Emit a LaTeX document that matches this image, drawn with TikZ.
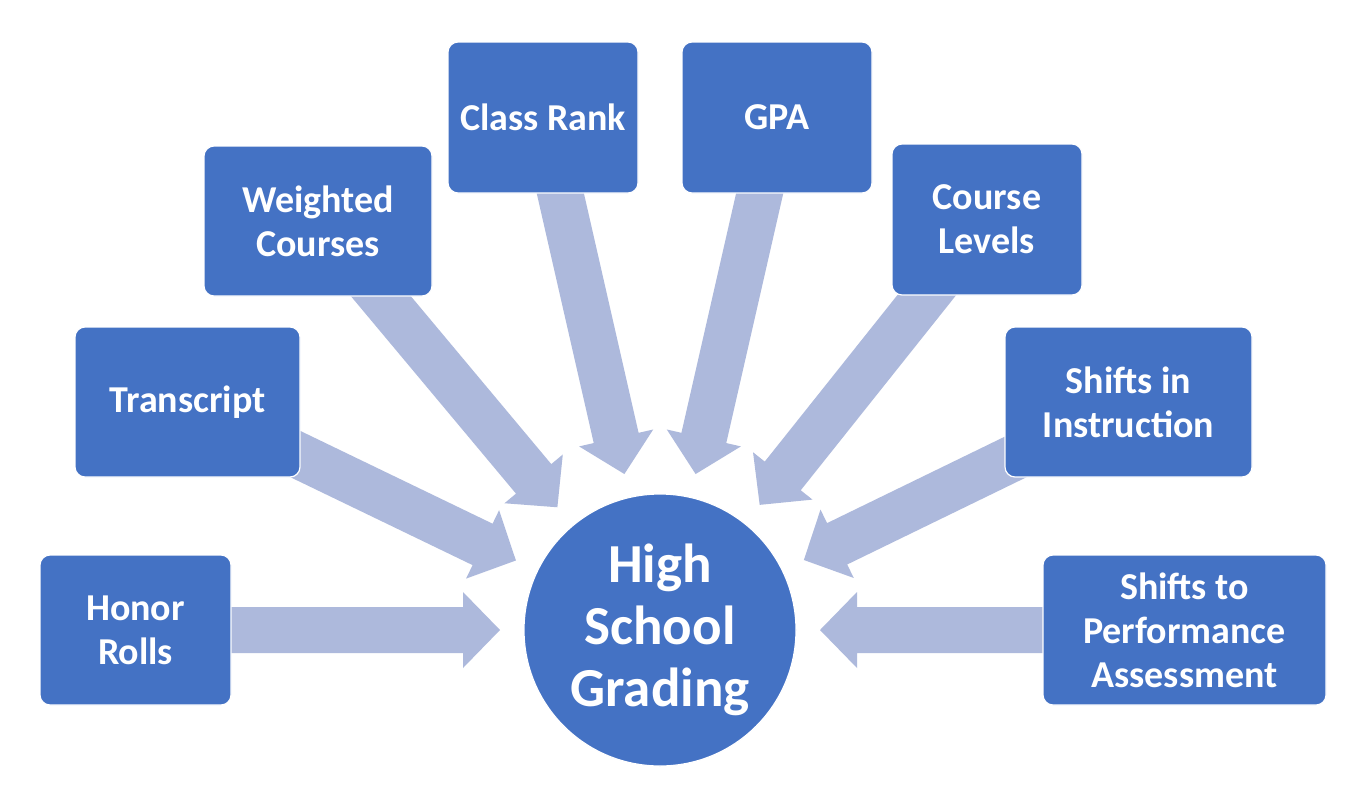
\documentclass[tikz,border=0pt]{standalone}
\usepackage{fontspec}
\setmainfont{Carlito}
\usetikzlibrary{calc}
\definecolor{boxblue}{HTML}{4472C4}
\definecolor{arrowblue}{RGB}{173,185,220}
\pgfdeclarelayer{back}
\pgfdeclarelayer{arrowlayer}
\pgfsetlayers{back,arrowlayer,main}
\newcommand\blockarrowto[1]{%
  \path ($(hsg.center)!160pt!(#1.center)$) coordinate (T)
        ($(hsg.center)!197pt!(#1.center)$) coordinate (H);
  \fill[arrowblue] ($(H)!23pt!90:(#1.center)$) -- ($(#1.center)!23pt!-90:(H)$)
     -- ($(#1.center)!23pt!90:(H)$) -- ($(H)!23pt!-90:(#1.center)$)
     -- ($(H)!38pt!-90:(#1.center)$) -- (T) -- ($(H)!38pt!90:(#1.center)$) -- cycle;}
\tikzset{
  topic/.style={draw=white, line width=1.2pt, fill=boxblue, rounded corners=10pt,
    text=white, font=\bfseries\fontsize{38}{44}\selectfont, align=center, inner sep=0pt},
  hub/.style={circle, draw=white, line width=1.2pt, fill=boxblue, text=white,
    font=\bfseries\fontsize{55}{62}\selectfont, align=center, minimum size=272pt, inner sep=0pt}
}
\begin{document}
\begin{tikzpicture}[x=1pt,y=-1pt]
\begin{pgfonlayer}{back}
\fill[white] (0,0) rectangle (1370,798);
\end{pgfonlayer}
\useasboundingbox (0,0) rectangle (1370,798);
\node[topic, minimum width=191pt, minimum height=150pt] (hr) at (135.5,630) {Honor\\Rolls};
\node[topic, minimum width=225pt, minimum height=150pt] (tr) at (187.5,402) {Transcript};
\node[topic, minimum width=228pt, minimum height=150pt] (wc) at (318,221) {Weighted\\Courses};
\node[topic, minimum width=190pt, minimum height=151pt] (cr) at (543,117.5) {Class Rank};
\node[topic, minimum width=190pt, minimum height=151pt] (gpa) at (777,117.5) {GPA};
\node[topic, minimum width=190pt, minimum height=151pt] (cl) at (987,219.5) {Course\\Levels};
\node[topic, minimum width=247pt, minimum height=150pt] (si) at (1128.5,402) {Shifts in\\Instruction};
\node[topic, minimum width=283pt, minimum height=150pt] (sp) at (1184.5,630) {Shifts to\\Performance\\Assessment};
\node[hub] (hsg) at (660,630) {High\\School\\Grading};
\begin{pgfonlayer}{arrowlayer}
\foreach \b in {hr,tr,wc,cr,gpa,cl,si,sp} {\blockarrowto{\b}}
\end{pgfonlayer}
\end{tikzpicture}
\end{document}
